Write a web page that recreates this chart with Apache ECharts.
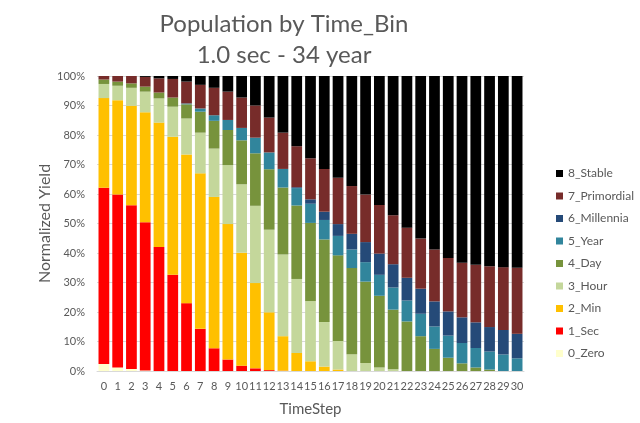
<!DOCTYPE html>
<html>
<head>
<meta charset="utf-8">
<script src="https://cdn.jsdelivr.net/npm/echarts@6/dist/echarts.min.js"></script>
<style>
  html, body { margin: 0; padding: 0; background: #fff; }
  #chart { width: 640px; height: 423px; }
</style>
</head>
<body>
<div id="chart"></div>
<script>
// time steps on the x axis
var timeSteps = ['0','1','2','3','4','5','6','7','8','9','10','11','12','13','14','15','16','17','18','19','20','21','22','23','24','25','26','27','28','29','30'];

// share of population in each time bin, % per time step
var zero       = [2.4, 1.2, 0.7, 0.2, 0, 0, 0, 0, 0, 0, 0, 0, 0, 0, 0, 0, 0, 0, 0, 0, 0, 0, 0, 0, 0, 0, 0, 0, 0, 0, 0];
var sec        = [59.7, 58.6, 55.5, 50.2, 42.0, 32.6, 23.0, 14.3, 7.7, 3.9, 1.8, 0.9, 0.3, 0.1, 0, 0, 0, 0, 0, 0, 0, 0, 0, 0, 0, 0, 0, 0, 0, 0, 0];
var min        = [30.4, 32.0, 33.7, 37.3, 42.2, 46.8, 50.4, 52.7, 51.3, 45.9, 38.3, 28.9, 19.6, 11.7, 6.1, 3.3, 1.5, 0.5, 0, 0, 0, 0, 0, 0, 0, 0, 0, 0, 0, 0, 0];
var hour       = [4.8, 4.9, 6.1, 7.0, 8.2, 10.2, 12.2, 13.8, 16.4, 20.0, 23.2, 26.2, 28.0, 27.7, 25.1, 20.4, 15.1, 9.7, 5.7, 2.7, 1.2, 0.6, 0, 0, 0, 0, 0, 0, 0, 0, 0];
var day        = [1.5, 1.4, 1.5, 1.7, 2.0, 3.1, 4.8, 7.1, 9.4, 11.9, 14.9, 17.8, 20.5, 22.7, 24.9, 26.5, 28.0, 29.0, 29.2, 27.6, 24.3, 20.2, 16.8, 11.8, 7.5, 4.5, 2.6, 1.2, 0.5, 0, 0];
var year       = [0, 0, 0, 0, 0, 0, 0.3, 1.1, 1.9, 3.4, 4.2, 5.3, 5.7, 6.3, 5.9, 6.5, 6.6, 6.6, 6.3, 6.6, 7.1, 7.5, 7.1, 7.6, 7.6, 7.5, 6.9, 6.6, 6.1, 5.6, 4.3];
var millennia  = [0, 0, 0, 0, 0, 0, 0, 0, 0, 0, 0, 0, 0, 0, 0.3, 1.5, 2.8, 4.0, 5.3, 6.8, 7.2, 7.9, 7.7, 8.5, 8.5, 8.2, 8.7, 8.7, 8.3, 8.3, 8.3];
var primordial = [1.2, 1.9, 2.5, 3.3, 4.8, 6.3, 7.4, 8.0, 9.3, 9.6, 10.3, 10.9, 11.8, 12.3, 13.9, 13.9, 14.5, 15.7, 16.2, 16.1, 16.5, 16.6, 17.0, 17.0, 17.6, 18.1, 18.5, 19.5, 20.6, 21.3, 22.4];
var stable     = [0, 0, 0, 0.3, 0.8, 1.0, 1.9, 3.0, 4.0, 5.3, 7.3, 10.0, 14.1, 19.2, 23.8, 27.9, 31.5, 34.5, 37.3, 40.2, 43.7, 47.2, 51.4, 55.1, 58.8, 61.7, 63.3, 64.0, 64.5, 64.8, 65.0];

var seriesNames = ['0_Zero','1_Sec','2_Min','3_Hour','4_Day','5_Year','6_Millennia','7_Primordial','8_Stable'];
var seriesData = [zero, sec, min, hour, day, year, millennia, primordial, stable];
var colors = ['#FFFFCC','#FF0000','#FFC000','#C4D79B','#77933C','#31859C','#254A78','#772C2A','#000000'];

var textColor = '#595959';
var font = 'Lato';

var chart = echarts.init(document.getElementById('chart'));

var series = seriesNames.map(function (name, i) {
    return {
        name: name,
        type: 'bar',
        stack: 'total',
        barCategoryGap: '22%',
        itemStyle: { color: colors[i] },
        data: seriesData[i]
    };
});

chart.setOption({
    animation: false,
    title: {
        text: 'Population by Time_Bin\n1.0 sec - 34 year',
        left: 279,
        textAlign: 'center',
        top: 4,
        textStyle: {
            color: textColor,
            fontFamily: font,
            fontWeight: 'normal',
            fontSize: 24,
            lineHeight: 31
        }
    },
    legend: {
        orient: 'vertical',
        left: 551,
        top: 161.5,
        itemWidth: 7,
        itemHeight: 7,
        itemGap: 8.5,
        icon: 'rect',
        data: seriesNames.slice().reverse(),
        textStyle: { color: textColor, fontFamily: font, fontSize: 12, lineHeight: 14 }
    },
    grid: { left: 97, right: 116, top: 76, bottom: 52 },
    xAxis: {
        type: 'category',
        data: timeSteps,
        name: 'TimeStep',
        nameLocation: 'middle',
        nameGap: 31,
        nameTextStyle: { color: textColor, fontFamily: font, fontSize: 15 },
        axisLine: { lineStyle: { color: '#D9D9D9' } },
        axisTick: { show: false },
        axisLabel: { interval: 0, color: textColor, fontFamily: font, fontSize: 11, margin: 10 }
    },
    yAxis: {
        type: 'value',
        min: 0,
        max: 100,
        interval: 10,
        name: 'Normalized Yield',
        nameLocation: 'middle',
        nameGap: 44,
        nameMoveOverlap: false,
        nameTextStyle: { color: textColor, fontFamily: font, fontSize: 16 },
        axisLine: { show: false },
        axisTick: { show: false },
        splitLine: { lineStyle: { color: '#D9D9D9' } },
        axisLabel: {
            color: textColor, fontFamily: font, fontSize: 11, margin: 12,
            formatter: function (v) { return v + '%'; }
        }
    },
    series: series
});
</script>
</body>
</html>
